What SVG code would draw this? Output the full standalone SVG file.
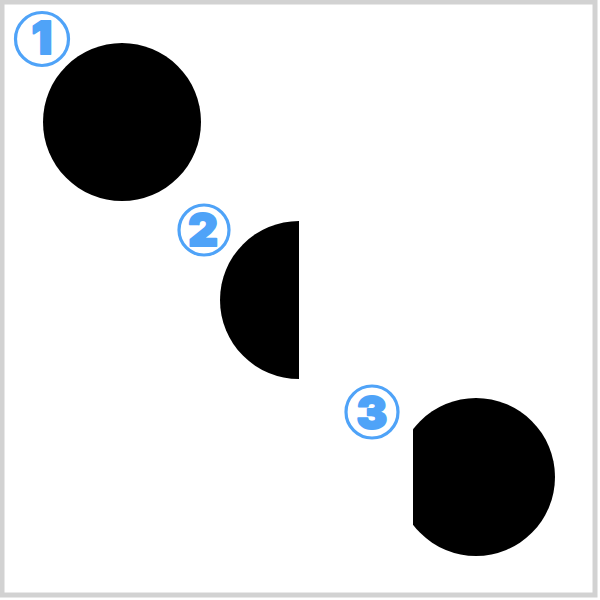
<svg xmlns="http://www.w3.org/2000/svg" width="600" height="600" viewBox="0 0 600 600">
<style>
.frame{fill:#ffffff;stroke:#d2d2d2;stroke-width:5}
.shape{fill:#000000}
.ring{fill:#ffffff;stroke:#4fa3f8;stroke-width:3.2}
.num{font-family:"Inter","Liberation Sans",sans-serif;font-weight:900;font-size:46px;fill:#4fa3f8;stroke:#4fa3f8;stroke-width:2;stroke-linejoin:round;text-anchor:middle}
</style>
<defs>
<clipPath id="clipHalf"><rect x="200" y="200" width="99" height="200"/></clipPath>
<clipPath id="clipCut"><rect x="413" y="390" width="160" height="180"/></clipPath>
</defs>
<rect class="frame" x="2" y="2" width="593" height="593"/>
<g id="node1">
<circle class="shape" cx="122" cy="122" r="79"/>
<circle class="ring" cx="42" cy="39" r="26.5"/>
<text class="num" x="42" y="53.5">1</text>
</g>
<g id="node2">
<circle class="shape" cx="299" cy="300" r="79" clip-path="url(#clipHalf)"/>
<circle class="ring" cx="204" cy="230" r="25"/>
<text class="num" x="203" y="246">2</text>
</g>
<g id="node3">
<circle class="shape" cx="476" cy="477" r="79" clip-path="url(#clipCut)"/>
<circle class="ring" cx="372" cy="412" r="26"/>
<text class="num" x="372" y="429">3</text>
</g>
<g id="connectors"></g>
</svg>
